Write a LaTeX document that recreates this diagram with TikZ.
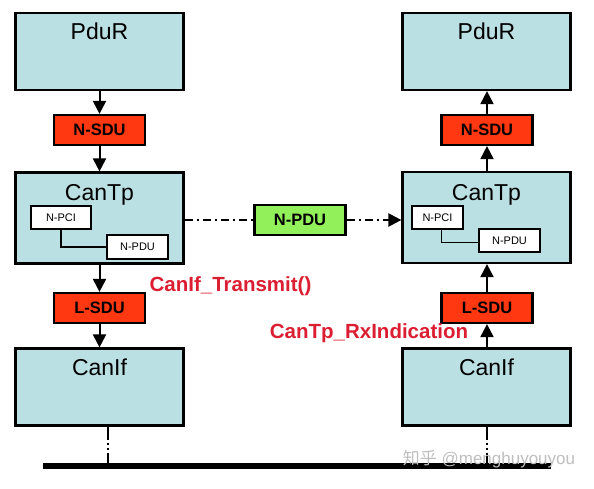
\documentclass[tikz,border=0pt]{standalone}
\usepackage{fontspec}
\setmainfont{Liberation Sans}
\newfontfamily\cjk{Noto Sans CJK SC}
\usetikzlibrary{arrows.meta}
\definecolor{layerblue}{RGB}{187,224,227}
\definecolor{sdured}{RGB}{255,56,17}
\definecolor{pdugreen}{RGB}{146,240,90}
\definecolor{apired}{RGB}{220,30,50}
\tikzset{
	layer/.style={draw, line width=2.2pt, fill=layerblue, minimum width=168pt, minimum height=77pt, inner sep=0pt},
	title/.style={font=\fontsize{23}{23}\selectfont, anchor=north, inner sep=0pt, yshift=-11pt},
	sdu/.style={draw, line width=2.2pt, fill=sdured, minimum width=91pt, minimum height=30pt, inner sep=0pt, font=\fontsize{16.5}{16.5}\selectfont\bfseries},
	field/.style={draw, line width=1.8pt, fill=white, minimum width=61pt, minimum height=23pt, inner sep=0pt, font=\fontsize{11}{11}\selectfont},
	flow/.style={line width=2pt, -{Triangle[width=13pt,length=13pt]}},
	link/.style={line width=2.2pt, dash pattern=on 8pt off 4pt on 2pt off 4pt},
	tap/.style={line width=2pt, dash pattern=on 13pt off 3pt on 2pt off 3pt on 2pt off 3pt},
	api/.style={text=apired, font=\fontsize{20.5}{21}\selectfont\bfseries}
}
\begin{document}
\begin{tikzpicture}[x=1pt,y=-1pt]
	%\draw [help lines, step=10pt] (0,0) grid (594,488);
	\fill[white] (0,0) rectangle (594,488);
	\useasboundingbox (0,0) rectangle (594,488);
	% sender
	\node[layer, label={[title]north:PduR}] (pduL) at (99.5,51.5) {};
	\node[sdu] (nsduL) at (99.5,130) {N-SDU};
	\node[layer, minimum height=91pt, label={[title, yshift=-2pt]north:CanTp}] (tpL) at (99.5,218) {};
	\node[field, minimum width=60pt] (pciL) at (61,217.5) {N-PCI};
	\node[field, minimum height=24pt] (fldL) at (137.5,247) {N-PDU};
	\node[sdu] (lsduL) at (99.5,308) {L-SDU};
	\node[layer, label={[title]north:CanIf}] (cifL) at (99.5,387) {};
	% receiver
	\node[layer, label={[title]north:PduR}] (pduR) at (486.5,51.5) {};
	\node[sdu] (nsduR) at (487,130) {N-SDU};
	\node[layer, minimum height=91pt, label={[title, yshift=-2pt]north:CanTp}] (tpR) at (486.5,217.5) {};
	\node[field, minimum width=51pt] (pciR) at (437.5,217.5) {N-PCI};
	\node[field] (fldR) at (509.5,240.5) {N-PDU};
	\node[sdu] (lsduR) at (487,308) {L-SDU};
	\node[layer, label={[title]north:CanIf}] (cifR) at (486.5,387) {};
	% frame in between
	\node[sdu, fill=pdugreen] (npdu) at (300,220) {N-PDU};
	\node[api] (txcall) at (230.5,286) {CanIf\_Transmit()};
	\node[api] (rxcall) at (369,333) {CanTp\_RxIndication};

	\draw[line width=1.8pt] (pciL.south) |- (fldL.west);
	\draw[line width=1.8pt] ([xshift=4pt]pciR.south) |- ([yshift=-2pt]fldR.west);

	\draw[flow] (pduL) -- (nsduL);
	\draw[flow] (nsduL) -- (tpL);
	\draw[flow] (tpL) -- (lsduL);
	\draw[flow] (lsduL) -- (cifL);
	\draw[flow] (nsduR) -- (pduR.south -| nsduR);
	\draw[flow] (tpR.north -| nsduR) -- (nsduR);
	\draw[flow] (lsduR) -- (tpR.south -| lsduR);
	\draw[flow] (cifR.north -| lsduR) -- (lsduR);

	\draw[link] (tpL.east |- npdu.west) -- (npdu.west);
	\draw[link, -{Triangle[width=13pt,length=13pt]}] (npdu.east) -- (tpR.west |- npdu.east);

	% bus
	\coordinate (busW) at (43,466);
	\coordinate (busE) at (551,466);
	\coordinate (tapL) at (108,466);
	\coordinate (tapR) at (486.5,466);
	\draw[tap] (cifL.south -| tapL) -- (tapL);
	\draw[tap] (cifR.south -| tapR) -- (tapR);
	\draw[line width=6pt] (busW) -- (busE);

	\node[text=gray!50, font=\fontsize{17}{17}\selectfont] (mark) at (489,459) {{\cjk 知乎} @menghuyouyou};
\end{tikzpicture}
\end{document}
